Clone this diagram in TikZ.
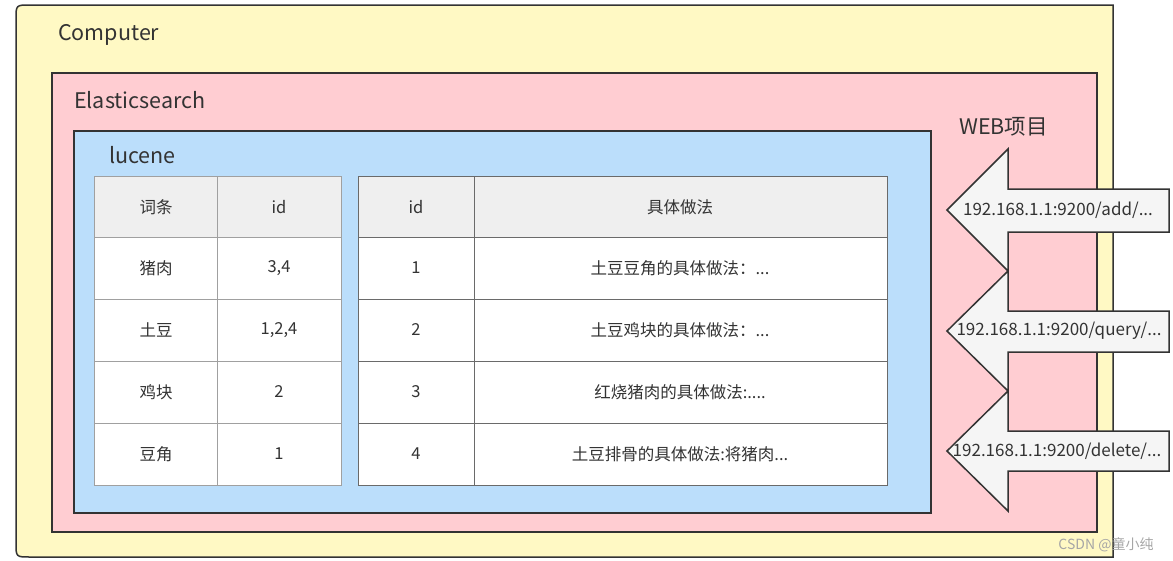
\documentclass[tikz,border=0pt]{standalone}
\usepackage{fontspec}
\setmainfont{Noto Sans CJK SC}
\definecolor{pcyellow}{HTML}{FFF9C4}
\definecolor{espink}{HTML}{FFCDD2}
\definecolor{luceneblue}{HTML}{BBDEFB}
\definecolor{headgray}{HTML}{EFEFEF}
\definecolor{arrowfill}{HTML}{F5F5F5}
\definecolor{linegray}{HTML}{333333}
\definecolor{textgray}{HTML}{333333}
\definecolor{gridlight}{HTML}{A0A0A0}
\definecolor{griddark}{HTML}{6A6A6A}

\begin{document}
\begin{tikzpicture}[x=1pt,y=-1pt,
    box/.style={draw=linegray,line width=1.5pt},
    title/.style={anchor=base west,inner sep=0pt,text=textgray,font=\fontsize{21.5}{21.5}\selectfont},
    cell/.style={text=textgray,font=\fontsize{16.5}{16.5}\selectfont},
    url/.style={text=textgray,font=\fontsize{17}{17}\selectfont},
    webarrow/.style={draw=linegray,line width=1.5pt,fill=arrowfill,line join=miter}]
    \useasboundingbox (0,0) rectangle (1173,560);

    % boxes
    \draw[box,fill=pcyellow] (1113,5) -- (30,5) .. controls (16,5) .. (16,19) -- (16,543)
        .. controls (16,557) .. (30,557) -- (1113,557) -- cycle;
    \draw[box,fill=espink] (52,73) rectangle (1097,532);
    \draw[box,fill=luceneblue] (74,131) rectangle (931,513);
    \node[title] (computer) at (58,40) {Computer};
    \node[title] (es) at (74,108) {Elasticsearch};
    \node[title] (lucene) at (109,163) {lucene};
    \node[title] (web) at (959,134) {WEB项目};

    % table 1
    \fill[headgray] (94,176) rectangle (341,237);
    \fill[white] (94,237) rectangle (341,485);
    \draw[gridlight,line width=1pt] (94,176) rectangle (341,485);
    \draw[gridlight,line width=1pt] (217,176) -- (217,485);
    \draw[gridlight,line width=1pt] (94,237) -- (341,237);
    \draw[gridlight,line width=1pt] (94,299) -- (341,299);
    \draw[gridlight,line width=1pt] (94,361) -- (341,361);
    \draw[gridlight,line width=1pt] (94,423) -- (341,423);
    \node[cell] (term) at (156,207) {词条};
    \node[cell] (ids) at (279,207) {id};
    \node[cell] (t1) at (156,268) {猪肉};
    \node[cell] (i1) at (279,268) {3,4};
    \node[cell] (t2) at (156,330) {土豆};
    \node[cell] (i2) at (279,330) {1,2,4};
    \node[cell] (t3) at (156,392) {鸡块};
    \node[cell] (i3) at (279,392) {2};
    \node[cell] (t4) at (156,454) {豆角};
    \node[cell] (i4) at (279,454) {1};

    % table 2
    \fill[headgray] (358,176) rectangle (887,237);
    \fill[white] (358,237) rectangle (887,485);
    \draw[griddark,line width=1pt] (358,176) rectangle (887,485);
    \draw[griddark,line width=1pt] (474,176) -- (474,485);
    \draw[griddark,line width=1pt] (358,237) -- (887,237);
    \draw[griddark,line width=1pt] (358,299) -- (887,299);
    \draw[griddark,line width=1pt] (358,361) -- (887,361);
    \draw[griddark,line width=1pt] (358,423) -- (887,423);
    \node[cell] (docid) at (416,207) {id};
    \node[cell] (recipe) at (680,207) {具体做法};
    \node[cell] (d1) at (416,268) {1};
    \node[cell] (r1) at (680,268) {土豆豆角的具体做法：...};
    \node[cell] (d2) at (416,330) {2};
    \node[cell] (r2) at (680,330) {土豆鸡块的具体做法：...};
    \node[cell] (d3) at (416,392) {3};
    \node[cell] (r3) at (680,392) {红烧猪肉的具体做法:....};
    \node[cell] (d4) at (416,454) {4};
    \node[cell] (r4) at (680,454) {土豆排骨的具体做法:将猪肉...};

    % web arrows
    \draw[webarrow] (1169,189) -- (1008,189) -- (1008,149) -- (947,210) -- (1008,271)
        -- (1008,232) -- (1169,232) -- cycle;
    \draw[webarrow] (1169,311) -- (1008,311) -- (1008,271) -- (947,331) -- (1008,391)
        -- (1008,352) -- (1169,352) -- cycle;
    \draw[webarrow] (1169,431) -- (1008,431) -- (1008,391) -- (947,451) -- (1008,511)
        -- (1008,471) -- (1169,471) -- cycle;
    \node[url] (add) at (1058,210) {192.168.1.1:9200/add/...};
    \node[url] (query) at (1059,331) {192.168.1.1:9200/query/...};
    \node[url] (delete) at (1057,451) {192.168.1.1:9200/delete/...};

    \node[text=gray!70,font=\fontsize{14}{14}\selectfont] (mark) at (1106,545) {CSDN @童小纯};
\end{tikzpicture}
\end{document}
